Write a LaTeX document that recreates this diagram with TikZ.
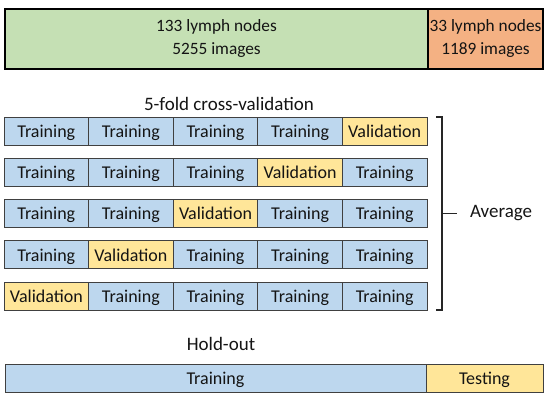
\documentclass[tikz,border=0pt]{standalone}
\usepackage{fontspec}
\setmainfont{Carlito}
\usetikzlibrary{positioning}
\definecolor{trainblue}{HTML}{BDD7EE}
\definecolor{validyellow}{HTML}{FFE699}
\definecolor{poolgreen}{HTML}{C5E0B4}
\definecolor{testorange}{HTML}{F4B183}
\definecolor{cellborder}{HTML}{404040}

\begin{document}
\begin{tikzpicture}[
  x=1pt, y=-1pt,
  node distance=13.25pt,
  every node/.style={text=black!92},
  cell/.style={draw=cellborder, line width=0.9pt, minimum width=84.6pt,
               minimum height=28pt, inner sep=0pt, outer sep=0pt,
               font=\fontsize{18}{20}\selectfont, text height=13pt, text depth=0.5pt},
  train/.style={cell, fill=trainblue},
  valid/.style={cell, fill=validyellow},
  pool/.style={draw=black, line width=2pt, minimum height=60pt, inner sep=0pt,
               outer sep=0pt, align=center, font=\fontsize{17.3}{23}\selectfont},
  title/.style={font=\fontsize{19}{22}\selectfont},
  brace/.style={line width=1.5pt, draw=black!85}
]
\useasboundingbox (0,0) rectangle (550,394);

% data split
\node[pool, fill=poolgreen, minimum width=423pt, anchor=north west] (dev) at (5,8.5)
  {133 lymph nodes\\5255 images};
\node[pool, fill=testorange, minimum width=115pt, right=0pt of dev] (hold)
  {33 lymph nodes\\1189 images};

\node[title] (cvtitle) at (229,104) {5-fold cross-validation};

% folds
\node[train, anchor=north west] (a1) at (4,117) {Training};
\node[train, right=0pt of a1] (a2) {Training};
\node[train, right=0pt of a2] (a3) {Training};
\node[train, right=0pt of a3] (a4) {Training};
\node[valid, right=0pt of a4] (a5) {Validation};

\node[train, below=of a1] (b1) {Training};
\node[train, right=0pt of b1] (b2) {Training};
\node[train, right=0pt of b2] (b3) {Training};
\node[valid, right=0pt of b3] (b4) {Validation};
\node[train, right=0pt of b4] (b5) {Training};

\node[train, below=of b1] (c1) {Training};
\node[train, right=0pt of c1] (c2) {Training};
\node[valid, right=0pt of c2] (c3) {Validation};
\node[train, right=0pt of c3] (c4) {Training};
\node[train, right=0pt of c4] (c5) {Training};

\node[train, below=of c1] (d1) {Training};
\node[valid, right=0pt of d1] (d2) {Validation};
\node[train, right=0pt of d2] (d3) {Training};
\node[train, right=0pt of d3] (d4) {Training};
\node[train, right=0pt of d4] (d5) {Training};

\node[valid, below=of d1] (e1) {Validation};
\node[train, right=0pt of e1] (e2) {Training};
\node[train, right=0pt of e2] (e3) {Training};
\node[train, right=0pt of e3] (e4) {Training};
\node[train, right=0pt of e4] (e5) {Training};

% bracket
\draw[brace] ([xshift=9pt]a5.north east) -- ([xshift=15pt]a5.north east)
  -- ([xshift=15pt]e5.south east) -- ([xshift=9pt]e5.south east);
\draw[brace] ([xshift=15pt]c5.east) -- ([xshift=30pt]c5.east) coordinate (tip);
\node[title, right=9.5pt of tip] (avg) {Average};

% hold-out
\node[title] (hotitle) at (221,344) {Hold-out};
\node[train, minimum width=421pt, anchor=north west] (fin) at (5,364) {Training};
\node[valid, minimum width=117pt, right=0pt of fin] (test) {Testing};
\end{tikzpicture}
\end{document}
